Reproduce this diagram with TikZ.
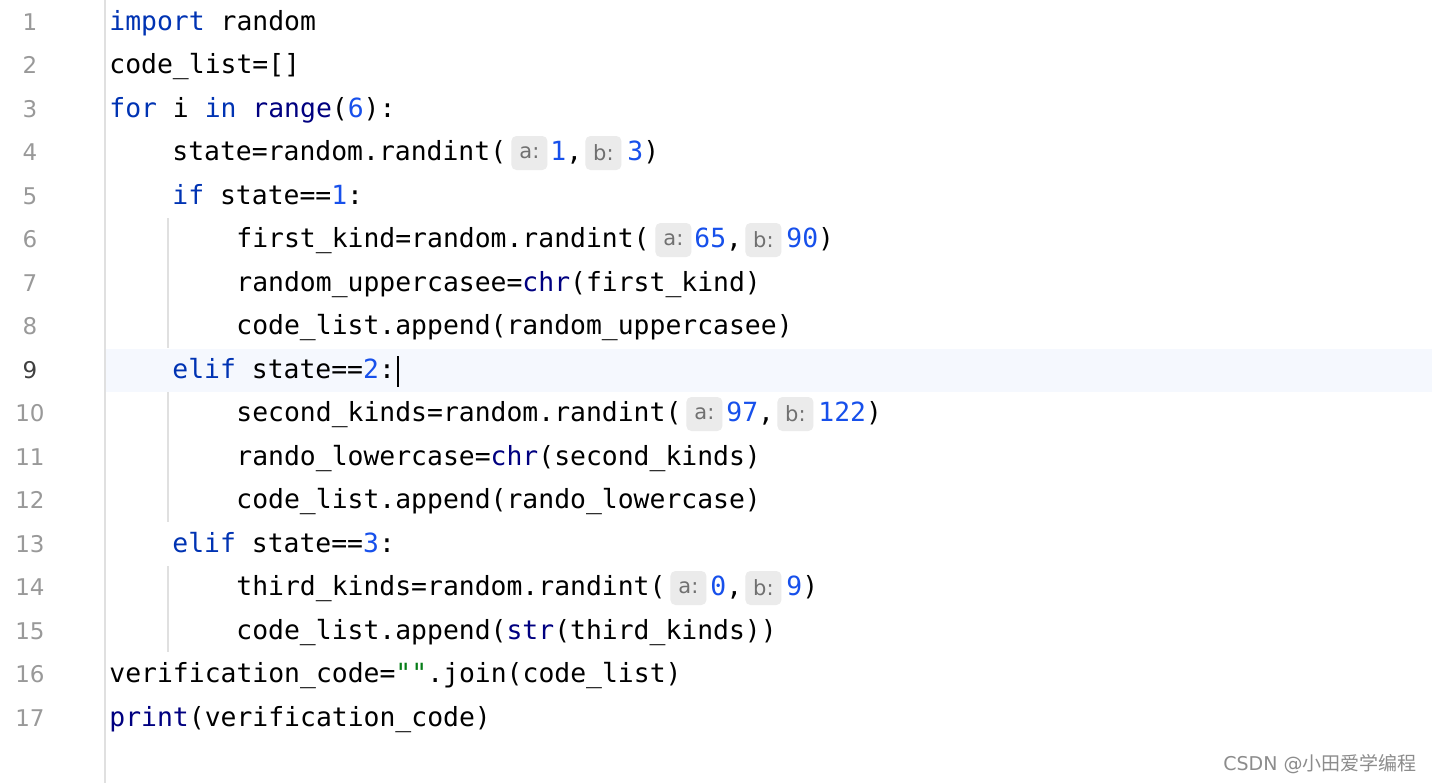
\documentclass[tikz,border=0pt]{standalone}
\usepackage{fontspec}
\setmonofont{DejaVu Sans Mono}
\newfontfamily\cjk{Noto Sans CJK SC}
\setsansfont{DejaVu Sans}
\definecolor{kw}{HTML}{0033B3}
\definecolor{num}{HTML}{1750EB}
\definecolor{bi}{HTML}{000080}
\definecolor{strc}{HTML}{067D17}
\definecolor{lnum}{HTML}{999999}
\definecolor{hintbg}{HTML}{EBEBEB}
\definecolor{hintfg}{HTML}{707070}
\definecolor{curline}{HTML}{F5F8FE}
\begin{document}
\begin{tikzpicture}[x=0.5pt,y=-0.5pt,
  code/.style={anchor=base west,inner sep=0,font=\fontsize{13.2pt}{15pt}\ttfamily,text=black},
  ln/.style={anchor=base,inner sep=0,font=\fontsize{11.5pt}{14pt}\sffamily,text=lnum},
  hint/.style={fill=hintbg,rounded corners=2.5pt,minimum width=18pt,minimum height=17pt,inner sep=0,font=\fontsize{10.5pt}{12pt}\sffamily,text=hintfg,anchor=west}]
\fill[white] (0,0) rectangle (1432,783);
\useasboundingbox (0,0) rectangle (1432,783);
\fill[curline] (105,349) rectangle (1432,392);
\draw[black!12,line width=0.6pt] (105,0) -- (105,783);
\foreach \n in {1,...,17}{
  \pgfmathsetmacro\yy{22+(\n-1)*43.5+8}
  \ifnum\n=9
    \node[ln,text=black!75] (l\n) at (30,\yy) {\n};
  \else
    \node[ln] (l\n) at (30,\yy) {\n};
  \fi
}
% indent guides
\draw[black!12,line width=0.6pt] (168,218) -- (168,348);
\draw[black!12,line width=0.6pt] (168,392) -- (168,522);
\draw[black!12,line width=0.6pt] (168,566) -- (168,652);
\def\Y#1{\numexpr 22+(#1-1)*87/2+8\relax}
\node[code] (c1) at (109,30) {{\color{kw}import} random};
\node[code] (c2) at (109,73.5) {code\_list=[]};
\node[code] (c3) at (109,117) {{\color{kw}for} i {\color{kw}in} {\color{bi}range}({\color{num}6}):};
% line 4
\node[code] (c4a) at (172,160.5) {state=random.randint(};
\node[hint] (h4a) at (511,153) {a:};
\node[code] (c4b) at (550,160.5) {{\color{num}1},};
\node[hint] (h4b) at (585,153) {b:};
\node[code] (c4c) at (627,160.5) {{\color{num}3})};
\node[code] (c5) at (172,204) {{\color{kw}if} state=={\color{num}1}:};
% line 6
\node[code] (c6a) at (236,247.5) {first\_kind=random.randint(};
\node[hint] (h6a) at (655,240) {a:};
\node[code] (c6b) at (694,247.5) {{\color{num}65},};
\node[hint] (h6b) at (745,240) {b:};
\node[code] (c6c) at (786,247.5) {{\color{num}90})};
\node[code] (c7) at (236,291) {random\_uppercasee={\color{bi}chr}(first\_kind)};
\node[code] (c8) at (236,334.5) {code\_list.append(random\_uppercasee)};
\node[code] (c9) at (172,378) {{\color{kw}elif} state=={\color{num}2}:};
\draw[black,line width=1pt] (398,356) -- (398,387);
% line 10
\node[code] (c10a) at (236,421.5) {second\_kinds=random.randint(};
\node[hint] (h10a) at (686,414) {a:};
\node[code] (c10b) at (726,421.5) {{\color{num}97},};
\node[hint] (h10b) at (777,414) {b:};
\node[code] (c10c) at (818,421.5) {{\color{num}122})};
\node[code] (c11) at (236,465) {rando\_lowercase={\color{bi}chr}(second\_kinds)};
\node[code] (c12) at (236,508.5) {code\_list.append(rando\_lowercase)};
\node[code] (c13) at (172,552) {{\color{kw}elif} state=={\color{num}3}:};
% line 14
\node[code] (c14a) at (236,595.5) {third\_kinds=random.randint(};
\node[hint] (h14a) at (670,588) {a:};
\node[code] (c14b) at (710,595.5) {{\color{num}0},};
\node[hint] (h14b) at (745,588) {b:};
\node[code] (c14c) at (786,595.5) {{\color{num}9})};
\node[code] (c15) at (236,639) {code\_list.append({\color{bi}str}(third\_kinds))};
\node[code] (c16) at (109,682.5) {verification\_code={\color{strc}""}.join(code\_list)};
\node[code] (c17) at (109,726) {{\color{bi}print}(verification\_code)};
\node[anchor=east,inner sep=0,font=\fontsize{9.5pt}{11pt}\sffamily,text=black!45] (wm) at (1417,764) {CSDN @{\cjk 小田爱学编程}};
\end{tikzpicture}
\end{document}
